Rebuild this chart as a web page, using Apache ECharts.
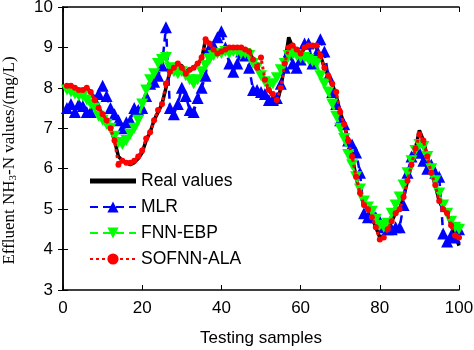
<!DOCTYPE html>
<html><head><meta charset="utf-8">
<script src="https://cdn.jsdelivr.net/npm/echarts@6/dist/echarts.min.js"></script>
<style>html,body{margin:0;padding:0;background:#fff}#c{width:474px;height:350px}</style>
</head><body><div id="c"></div>
<script>
const samples = Array.from({length:100},(_,i)=>i+1);
const realValues = [8.05,8.05,8.0,7.95,7.95,8.0,7.9,7.7,7.5,7.35,7.2,7.0,6.7,6.3,6.2,6.15,6.1,6.15,6.25,6.4,6.7,6.9,7.2,7.4,7.6,8.0,8.4,8.5,8.55,8.55,8.4,8.45,8.5,8.6,8.7,9.2,9.1,8.95,8.9,8.85,8.9,9.0,9.0,9.0,9.0,8.95,8.9,8.7,8.5,8.35,8.2,7.95,7.8,7.6,8.0,8.6,9.25,9.0,8.9,8.8,9.0,9.05,9.05,9.0,8.8,8.5,8.3,8.1,7.8,7.4,7.1,6.7,6.3,5.8,5.4,5.1,5.0,4.8,4.55,4.3,4.35,4.5,4.7,4.9,5.0,5.3,5.7,6.1,6.5,6.95,6.7,6.3,5.9,5.6,5.2,5.0,4.9,4.6,4.35,4.1];
const mlr = [7.5,7.6,7.4,7.6,7.55,7.4,7.4,7.7,7.85,8.05,7.8,7.5,7.35,7.2,7.0,7.15,7.2,7.5,7.45,7.5,7.8,8.1,8.15,8.3,8.55,9.5,7.5,7.35,7.6,8.0,7.8,7.45,7.4,7.75,8.0,8.3,9.0,9.05,9.25,9.4,9.0,8.6,8.4,8.6,8.9,8.8,8.5,7.95,7.95,7.9,7.85,7.7,7.7,7.75,8.1,8.5,8.9,8.6,8.5,8.7,9.1,9.1,8.6,8.85,9.2,8.9,8.3,7.9,7.6,7.2,7.1,6.7,6.6,6.4,5.9,4.9,4.8,4.9,4.8,4.7,4.55,4.5,4.5,4.55,4.55,5.1,5.9,6.3,6.4,6.4,6.2,6.0,6.1,5.9,5.8,4.4,4.2,4.35,4.3,4.5];
const fnnEbp = [7.95,7.9,7.85,7.8,7.8,7.7,7.6,7.5,7.3,7.2,7.1,7.0,6.8,6.65,6.6,6.7,6.85,7.0,7.2,7.6,7.95,8.2,8.35,8.6,8.7,8.75,8.5,8.4,8.35,8.4,8.3,8.2,8.1,8.2,8.4,8.55,8.7,8.8,8.85,8.85,8.9,8.85,8.9,8.9,8.85,8.85,8.8,8.6,8.5,8.3,8.15,8.05,8.1,8.25,8.45,8.6,8.8,8.85,8.8,8.75,8.75,8.7,8.65,8.6,8.3,8.1,7.9,7.6,7.3,7.0,6.75,6.35,6.1,5.8,5.5,5.2,5.05,4.95,4.75,4.6,4.55,4.65,4.9,5.1,5.3,5.6,5.9,6.2,6.45,6.6,6.55,6.3,6.0,5.7,5.4,5.1,4.9,4.7,4.55,4.5];
const sofnnAla = [8.05,8.05,8.0,7.95,7.95,8.0,7.9,7.7,7.5,7.35,7.2,7.0,6.7,6.1,6.2,6.15,6.15,6.2,6.3,6.45,6.75,6.9,7.2,7.45,7.6,8.1,8.4,8.5,8.6,8.5,8.35,8.45,8.5,8.6,8.75,9.2,9.1,8.95,8.85,8.9,8.95,9.0,9.0,9.0,9.0,8.95,8.9,8.7,8.5,8.75,8.2,7.95,7.85,7.7,8.0,8.6,9.0,9.05,8.95,8.85,9.0,9.05,9.05,9.05,8.8,8.5,8.3,8.1,7.9,7.4,7.1,6.7,6.3,5.8,5.4,5.1,5.0,4.8,4.55,4.25,4.3,4.5,4.7,4.9,5.0,5.3,5.7,6.1,6.5,6.85,6.7,6.3,5.9,5.6,5.2,5.0,4.9,4.6,4.35,4.3];
const seriesNames = ['Real values','MLR','FNN-EBP','SOFNN-ALA'];
const xTicks = [0,20,40,60,80,100];
const yTicks = [3,4,5,6,7,8,9,10];

const pair = arr => samples.map((x,i)=>[x,arr[i]]);
const chart = echarts.init(document.getElementById('c'));
const tickFont = {fontFamily:'Liberation Sans, Arial, sans-serif', fontSize:17, color:'#000'};
const axisCommon = {
  axisLine:{show:true,lineStyle:{color:'#000',width:1.5}},
  axisTick:{show:true,inside:true,length:5,lineStyle:{color:'#000'}},
  splitLine:{show:false}
};
chart.setOption({
  animation:false,
  grid:{left:63,right:15,top:7,bottom:60,containLabel:false,outerBoundsMode:'none'},
  legend:{
    orient:'vertical', left:84, top:167, itemWidth:46, itemHeight:14, itemGap:8,
    textStyle:{fontFamily:'Liberation Sans, Arial, sans-serif', fontSize:17.5, color:'#000'},
    data:[{name:seriesNames[0],icon:'path://M0,0 H46 V5 H0 Z'},seriesNames[1],seriesNames[2],seriesNames[3]]
  },
  xAxis:[
    Object.assign({type:'value',min:0,max:100,interval:20,position:'bottom',
      name:'Testing samples',nameLocation:'middle',nameGap:40,
      nameTextStyle:{fontFamily:'Liberation Sans, Arial, sans-serif',fontSize:17,color:'#000'},
      axisLabel:Object.assign({margin:10,formatter:v=>xTicks.includes(v)?String(v):''},tickFont)},axisCommon),
    Object.assign({type:'value',min:0,max:100,interval:20,position:'top',axisLabel:{show:false}},axisCommon)
  ],
  yAxis:[
    Object.assign({type:'value',min:3,max:10,interval:1,position:'left',
      name:'{a|Effluent NH}{s|3}{a|-N values/(mg/L)}',nameLocation:'middle',nameGap:44,nameRotate:90,
      nameTextStyle:{padding:[0,24,0,0],rich:{
        a:{fontFamily:'Liberation Serif, Times New Roman, serif',fontSize:17,color:'#000'},
        s:{fontFamily:'Liberation Serif, Times New Roman, serif',fontSize:11,color:'#000',verticalAlign:'bottom',padding:[8,0,0,0]}
      }},
      axisLabel:Object.assign({margin:10,formatter:v=>yTicks.includes(v)?String(v):''},tickFont)},axisCommon),
    Object.assign({type:'value',min:3,max:10,interval:1,position:'right',axisLabel:{show:false}},axisCommon)
  ],
  series:[
    {name:seriesNames[0],type:'line',data:pair(realValues),symbol:'none',z:2,
      lineStyle:{color:'#000',width:3.5},itemStyle:{color:'#000'}},
    {name:seriesNames[1],type:'line',data:pair(mlr),symbol:'triangle',symbolSize:12,z:3,
      lineStyle:{color:'#0000ff',width:2.5,type:[8,5]},itemStyle:{color:'#0000ff'}},
    {name:seriesNames[2],type:'line',data:pair(fnnEbp),symbol:'path://M0,0 L10,0 L5,9 Z',symbolSize:[12,11],z:4,
      lineStyle:{color:'#00ff00',width:2.5,type:[8,5]},itemStyle:{color:'#00ff00'}},
    {name:seriesNames[3],type:'line',data:pair(sofnnAla),symbol:'circle',symbolSize:6,z:5,
      lineStyle:{color:'#ff0000',width:3,type:[3,3]},itemStyle:{color:'#ff0000'}}
  ]
});
</script></body></html>
